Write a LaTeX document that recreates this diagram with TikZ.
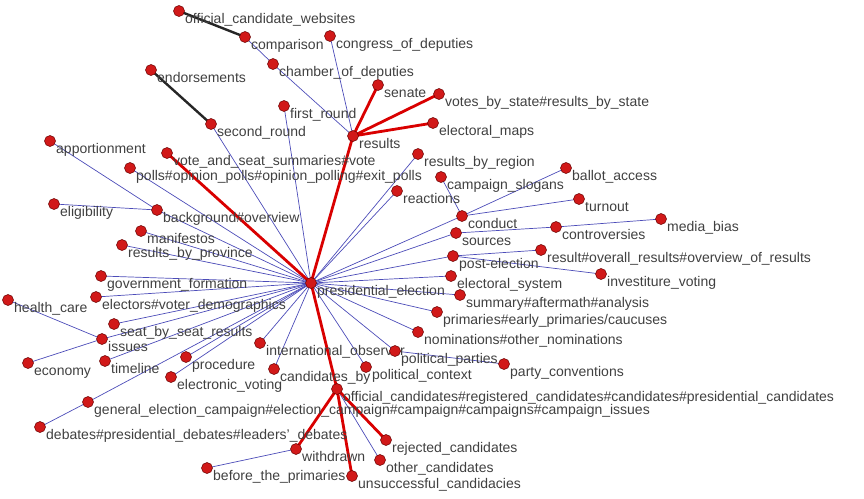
\documentclass[tikz,border=0pt]{standalone}
\usepackage{fontspec}
\setmainfont{Liberation Sans}
\begin{document}
\begin{tikzpicture}[x=1pt,y=-1pt,
  dot/.style={circle,fill=red!80!black!90,draw=red!40!black,line width=0.5pt,minimum size=11pt,inner sep=0pt},
  lab/.style={anchor=base west,inner sep=0pt,text=black!75,font=\fontsize{14}{15}\selectfont},
  thin/.style={draw=blue!60!black!70,line width=0.7pt},
  redl/.style={draw=red!85!black,line width=2.8pt},
  blk/.style={draw=black!85,line width=2.4pt}]
\useasboundingbox (0,0) rectangle (864,498);
\def\P#1#2#3{\coordinate (#1) at (#2,#3);}
\P{ocw}{179}{11}\P{cmp}{245}{37}\P{cod}{330}{36}\P{chd}{273}{64}\P{end}{151}{70}
\P{sen}{378}{85}\P{vbs}{439}{94}\P{fr}{284}{106}\P{sr}{211}{124}\P{res}{353}{136}
\P{em}{433}{123}\P{app}{50}{141}\P{vas}{167}{153}\P{rbr}{418}{154}\P{pol}{130}{168}
\P{ba}{566}{168}\P{cs}{441}{177}\P{eli}{54}{204}\P{bg}{157}{210}\P{rea}{397}{191}
\P{tur}{579}{199}\P{con}{462}{216}\P{mb}{661}{219}\P{man}{141}{231}\P{src}{456}{233}
\P{ctv}{556}{227}\P{rbp}{122}{245}\P{ovr}{541}{250}\P{pe}{453}{256}\P{inv}{601}{274}
\P{es}{451}{276}\P{hub}{311}{283}\P{gf}{101}{276}\P{sum}{460}{295}\P{elc}{96}{297}
\P{hc}{8}{300}\P{sbs}{114}{324}\P{pri}{437}{312}\P{iss}{102}{339}\P{nom}{418}{332}
\P{eco}{28}{363}\P{tl}{105}{361}\P{pro}{186}{357}\P{io}{260}{343}\P{pp}{395}{351}
\P{cb}{274}{369}\P{pc}{366}{367}\P{pcv}{504}{364}\P{ev}{171}{377}\P{oc}{337}{389}
\P{gec}{88}{402}\P{deb}{40}{427}\P{rej}{386}{440}\P{wd}{296}{449}\P{oth}{380}{460}
\P{btp}{207}{468}\P{unc}{352}{476}
% thin edges
\foreach \n in {sr,fr,pol,bg,man,rbp,gf,elc,sbs,iss,tl,pro,ev,io,cb,pp,nom,pri,sum,es,pe,src,con,rea,rbr,pc,gec}
  \draw[thin] (\n) -- (hub);
\foreach \a/\b in {chd/res,cod/res,cmp/chd,app/bg,eli/bg,hc/iss,eco/iss,cs/con,ba/con,tur/con,ctv/src,mb/ctv,ovr/pe,inv/pe,pcv/pp,deb/gec,btp/wd,oth/oc}
  \draw[thin] (\a) -- (\b);
% thick edges
\draw[blk] (ocw) -- (cmp);
\draw[blk] (end) -- (sr);
\foreach \a/\b in {res/hub,res/sen,res/vbs,res/em,vas/hub,hub/oc,oc/wd,oc/rej,oc/unc}
  \draw[redl] (\a) -- (\b);
% nodes and labels
\def\N#1#2{\node[dot] (#1d) at (#1) {}; \node[lab] (#1l) at ([shift={(6,12)}]#1) {#2};}
\N{ocw}{official\_candidate\_websites}\N{cmp}{comparison}\N{cod}{congress\_of\_deputies}
\N{chd}{chamber\_of\_deputies}\N{end}{endorsements}\N{sen}{senate}
\N{vbs}{votes\_by\_state\#results\_by\_state}\N{fr}{first\_round}\N{sr}{second\_round}
\N{res}{results}\N{em}{electoral\_maps}\N{app}{apportionment}
\N{vas}{vote\_and\_seat\_summaries\#vote}\N{rbr}{results\_by\_region}
\N{pol}{polls\#opinion\_polls\#opinion\_polling\#exit\_polls}\N{ba}{ballot\_access}
\N{cs}{campaign\_slogans}\N{eli}{eligibility}\N{bg}{background\#overview}
\N{rea}{reactions}\N{tur}{turnout}\N{con}{conduct}\N{mb}{media\_bias}
\N{man}{manifestos}\N{src}{sources}\N{ctv}{controversies}\N{rbp}{results\_by\_province}
\N{ovr}{result\#overall\_results\#overview\_of\_results}\N{pe}{post-election}
\N{inv}{investiture\_voting}\N{es}{electoral\_system}\N{hub}{presidential\_election}
\N{gf}{government\_formation}\N{sum}{summary\#aftermath\#analysis}
\N{elc}{electors\#voter\_demographics}\N{hc}{health\_care}\N{sbs}{seat\_by\_seat\_results}
\N{pri}{primaries\#early\_primaries/caucuses}\N{iss}{issues}
\N{nom}{nominations\#other\_nominations}\N{eco}{economy}\N{tl}{timeline}
\N{pro}{procedure}\N{io}{international\_observer}\N{pp}{political\_parties}
\N{cb}{candidates\_by}\N{pc}{political\_context}\N{pcv}{party\_conventions}
\N{ev}{electronic\_voting}
\N{oc}{official\_candidates\#registered\_candidates\#candidates\#presidential\_candidates}
\N{gec}{general\_election\_campaign\#election\_campaign\#campaign\#campaigns\#campaign\_issues}
\N{deb}{debates\#presidential\_debates\#leaders'\_debates}\N{rej}{rejected\_candidates}
\N{wd}{withdrawn}\N{oth}{other\_candidates}\N{btp}{before\_the\_primaries}
\N{unc}{unsuccessful\_candidacies}
\end{tikzpicture}
\end{document}
